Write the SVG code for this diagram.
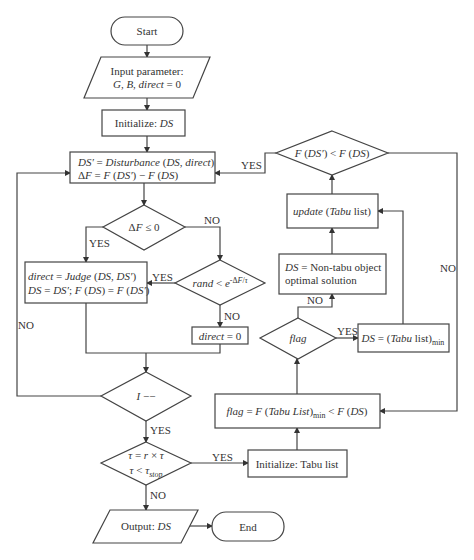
<svg xmlns="http://www.w3.org/2000/svg" width="474" height="560" viewBox="0 0 474 560">
<defs>
<marker id="ah" markerWidth="6" markerHeight="6" refX="5" refY="3" orient="auto" markerUnits="userSpaceOnUse">
<path d="M0,0 L6,3 L0,6 z" fill="#333"/>
</marker>
<style>
.s{fill:#fff;stroke:#444;stroke-width:1.2}
.c{fill:none;stroke:#444;stroke-width:1.2}
.a{marker-end:url(#ah)}
text{font-family:"Liberation Serif","Times New Roman",serif;font-size:11px;fill:#333}
.m{text-anchor:middle}
.i{font-style:italic}
.sub{font-size:8px}
</style>
</defs>
<rect width="474" height="560" fill="#fff"/>
<g id="connectors">
<path class="c a" d="M147,45 V57"/>
<path class="c a" d="M147,98 V110"/>
<path class="c a" d="M147,136 V152"/>
<path class="c a" d="M144,183 V205"/>
<path class="c a" d="M103,227 H86 V262"/>
<path class="c a" d="M185,227 H220 V260"/>
<path class="c a" d="M175,283 H147"/>
<path class="c a" d="M220,305 V327"/>
<path class="c" d="M86,303 V353 H220 V344"/>
<path class="c a" d="M146,353 V372"/>
<path class="c a" d="M101,396 H17 V173 H70"/>
<path class="c a" d="M146,421 V442"/>
<path class="c a" d="M191,463 H248"/>
<path class="c a" d="M146,485 V510"/>
<path class="c a" d="M190,526 H212"/>
<path class="c a" d="M297,450 V428"/>
<path class="c a" d="M297,394 V359"/>
<path class="c a" d="M336,338 H358"/>
<path class="c a" d="M298,318 V307 H332 V294"/>
<path class="c a" d="M403,324 V211 H378"/>
<path class="c a" d="M332,254 V228"/>
<path class="c a" d="M332,194 V175"/>
<path class="c a" d="M276,153 H265 V173 H215"/>
<path class="c a" d="M388,153 H457 V411 H380"/>
</g>
<g id="labels">
<text x="89" y="247">YES</text>
<text x="204" y="224">NO</text>
<text x="152" y="281">YES</text>
<text x="224" y="320">NO</text>
<text x="18" y="329">NO</text>
<text x="150" y="434">YES</text>
<text x="212" y="461">YES</text>
<text x="150" y="499">NO</text>
<text x="337" y="335">YES</text>
<text x="307" y="304">NO</text>
<text x="241" y="169">YES</text>
<text x="440" y="272">NO</text>
</g>
<g id="start">
<rect class="s" x="111" y="17" width="72" height="28" rx="14"/>
<text class="m" x="147" y="35">Start</text>
</g>
<g id="input">
<polygon class="s" points="101,57 210,57 193,98 84,98"/>
<text class="m" x="147" y="75">Input parameter:</text>
<text class="m" x="147" y="88"><tspan class="i">G</tspan>, <tspan class="i">B</tspan>, <tspan class="i">direct</tspan> = 0</text>
</g>
<g id="init-ds">
<rect class="s" x="102" y="110" width="83" height="26"/>
<text class="m" x="144" y="127">Initialize: <tspan class="i">DS</tspan></text>
</g>
<g id="disturbance">
<rect class="s" x="70" y="152" width="145" height="31"/>
<text x="78" y="166"><tspan class="i">DS′</tspan> = <tspan class="i">Disturbance</tspan> (<tspan class="i">DS</tspan>, <tspan class="i">direct</tspan>)</text>
<text x="78" y="179">Δ<tspan class="i">F</tspan> = <tspan class="i">F</tspan> (<tspan class="i">DS′</tspan>) − <tspan class="i">F</tspan> (<tspan class="i">DS</tspan>)</text>
</g>
<g id="dF">
<polygon class="s" points="144,205 185,227 144,250 103,227"/>
<text class="m" x="144" y="231">Δ<tspan class="i">F</tspan> ≤ 0</text>
</g>
<g id="judge">
<rect class="s" x="25" y="262" width="122" height="41"/>
<text x="28" y="280"><tspan class="i">direct</tspan> = <tspan class="i">Judge</tspan> (<tspan class="i">DS</tspan>, <tspan class="i">DS′</tspan>)</text>
<text x="28" y="294"><tspan class="i">DS</tspan> = <tspan class="i">DS′</tspan>; <tspan class="i">F</tspan> (<tspan class="i">DS</tspan>) = <tspan class="i">F</tspan> (<tspan class="i">DS′</tspan>)</text>
</g>
<g id="rand">
<polygon class="s" points="220,260 265,283 220,305 175,283"/>
<text class="m" x="220" y="287"><tspan class="i">rand</tspan> &lt; <tspan class="i">e</tspan><tspan class="sub" dy="-4">-Δ<tspan class="i">F</tspan>/<tspan class="i">τ</tspan></tspan></text>
</g>
<g id="direct0">
<rect class="s" x="192" y="327" width="56" height="17"/>
<text class="m" x="220" y="339.5"><tspan class="i">direct</tspan> = 0</text>
</g>
<g id="iter">
<polygon class="s" points="146,372 191,396 146,421 101,396"/>
<text class="m" x="146" y="400"><tspan class="i">I</tspan> −−</text>
</g>
<g id="tau">
<polygon class="s" points="146,442 191,463 146,485 101,463"/>
<text class="m" x="146" y="459"><tspan class="i">τ</tspan> = <tspan class="i">r</tspan> × <tspan class="i">τ</tspan></text>
<text class="m" x="146" y="474"><tspan class="i">τ</tspan> &lt; <tspan class="i">τ</tspan><tspan class="sub i" dy="3">stop</tspan></text>
</g>
<g id="output">
<polygon class="s" points="110,510 198,510 181,543 93,543"/>
<text class="m" x="146" y="530">Output: <tspan class="i">DS</tspan></text>
</g>
<g id="end">
<rect class="s" x="212" y="512" width="72" height="29" rx="14"/>
<text class="m" x="248" y="531">End</text>
</g>
<g id="init-tabu">
<rect class="s" x="248" y="450" width="99" height="27"/>
<text class="m" x="297" y="468">Initialize: Tabu list</text>
</g>
<g id="flag-box">
<rect class="s" x="215" y="394" width="165" height="34"/>
<text class="m" x="297" y="415"><tspan class="i">flag</tspan> = <tspan class="i">F</tspan> (<tspan class="i">Tabu List</tspan>)<tspan class="sub" dy="3">min</tspan><tspan dy="-3"> &lt; </tspan><tspan class="i">F</tspan> (<tspan class="i">DS</tspan>)</text>
</g>
<g id="flag">
<polygon class="s" points="298,318 336,338 298,359 260,338"/>
<text class="m i" x="298" y="342">flag</text>
</g>
<g id="tabu-min">
<rect class="s" x="358" y="324" width="91" height="28"/>
<text class="m" x="403" y="342"><tspan class="i">DS</tspan> = (<tspan class="i">Tabu</tspan> list)<tspan class="sub" dy="3">min</tspan></text>
</g>
<g id="non-tabu">
<rect class="s" x="279" y="254" width="107" height="40"/>
<text x="285" y="271"><tspan class="i">DS</tspan> = Non-tabu object</text>
<text x="285" y="284">optimal solution</text>
</g>
<g id="update">
<rect class="s" x="287" y="194" width="91" height="34"/>
<text class="m" x="332" y="215"><tspan class="i">update</tspan> (<tspan class="i">Tabu</tspan> list)</text>
</g>
<g id="compare">
<polygon class="s" points="332,131 388,153 332,175 276,153"/>
<text class="m" x="332" y="157"><tspan class="i">F</tspan> (<tspan class="i">DS′</tspan>) &lt; <tspan class="i">F</tspan> (<tspan class="i">DS</tspan>)</text>
</g>
</svg>
